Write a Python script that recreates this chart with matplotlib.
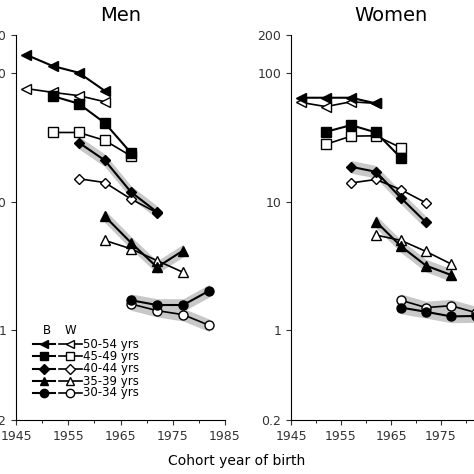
import matplotlib.pyplot as plt
import numpy as np

cohorts = [1947, 1952, 1957, 1962, 1967, 1972, 1977, 1982]
groups = ['50-54 yrs', '45-49 yrs', '40-44 yrs', '35-39 yrs', '30-34 yrs']
markers = ['<', 's', 'D', '^', 'o']
starts = [0, 1, 2, 3, 4]  # index of first cohort for each age group

# rates, per group, first cohort onward
men_black = [[139, 114, 101, 73], [66.5, 58, 41, 24], [28.9, 21, 11.9, 8.3],
             [7.7, 4.8, 3.09, 4.17], [1.71, 1.57, 1.57, 2.03]]
men_white = [[76, 71, 67, 60], [34.6, 34.6, 30, 22.7], [15.1, 14.1, 10.5, 8.2],
             [5.0, 4.3, 3.48, 2.82], [1.6, 1.42, 1.32, 1.09]]
women_black = [[64.5, 64.5, 64.5, 58.3], [35, 39.5, 34.6, 21.9], [18.7, 17.1, 10.7, 6.9],
               [7.0, 4.5, 3.18, 2.69], [1.5, 1.39, 1.28, 1.29]]
women_white = [[59.3, 55, 60, 58.3], [28, 32.4, 32.6, 26.3], [14, 14.9, 12.4, 9.8],
               [5.5, 5.0, 4.1, 3.28], [1.71, 1.5, 1.55, 1.37]]

fig = plt.figure(figsize=(4.74, 4.74), dpi=100)
ax1 = fig.add_axes([16/474, 0.114, 209/474, 0.813])
ax2 = fig.add_axes([291/474, 0.114, 200/474, 0.813])

def msize(i):
    return 5.5 if i == 2 else 6.5

def draw(ax, black, white, title):
    for i in range(5):
        xs = cohorts[starts[i]:starts[i] + 4]
        if i >= 2:
            for ser in ((black[i], white[i]) if i == 4 else (black[i],)):
                s = np.array(ser)
                ax.fill_between(xs, s / 1.12, s * 1.12, color='#c8c8c8', lw=0, zorder=1)
        ax.plot(xs, white[i], color='black', marker=markers[i], mfc='white', mec='black',
                ms=msize(i), lw=1.2, zorder=3)
        ax.plot(xs, black[i], color='black', marker=markers[i], mfc='black', mec='black',
                ms=msize(i), lw=1.5, zorder=4)
    ax.set_yscale('log')
    ax.set_ylim(0.2, 200)
    ax.set_xlim(1945, 1985)
    ax.set_yticks([0.2, 1, 10, 100, 200])
    ax.set_yticklabels(['0.2', '1', '10', '100', '200'])
    ax.yaxis.set_minor_locator(plt.NullLocator())
    ax.set_xticks([1945, 1955, 1965, 1975, 1985])
    ax.set_xticks(range(1945, 1986, 5), minor=True)
    ax.tick_params(labelsize=9, colors='#333333', direction='out')
    ax.spines['top'].set_visible(False)
    ax.spines['right'].set_visible(False)
    ax.set_title(title, fontsize=14, pad=10)

draw(ax1, men_black, men_white, 'Men')
draw(ax2, women_black, women_white, 'Women')

# hand-built legend: black line, white line, label
tr = ax1.transAxes
row_y = [0.197, 0.165, 0.133, 0.101, 0.070]
for i in range(5):
    y = row_y[i]
    ax1.plot([0.081, 0.187], [y, y], color='black', lw=1.5, transform=tr, clip_on=False)
    ax1.plot([0.134], [y], marker=markers[i], color='black', ms=msize(i) - 0.5,
             transform=tr, clip_on=False)
    ax1.plot([0.205, 0.316], [y, y], color='black', lw=1.2, transform=tr, clip_on=False)
    ax1.plot([0.258], [y], marker=markers[i], mfc='white', mec='black', ms=msize(i) - 0.5,
             transform=tr, clip_on=False)
    ax1.text(0.322, y, groups[i], transform=tr, fontsize=8.5, va='center')
ax1.text(0.148, 0.231, 'B', transform=tr, fontsize=8.5, ha='center', va='center')
ax1.text(0.258, 0.231, 'W', transform=tr, fontsize=8.5, ha='center', va='center')

fig.text(0.5, 0.02, 'Cohort year of birth', ha='center', fontsize=10)
fig.savefig('out.png', dpi=100)
